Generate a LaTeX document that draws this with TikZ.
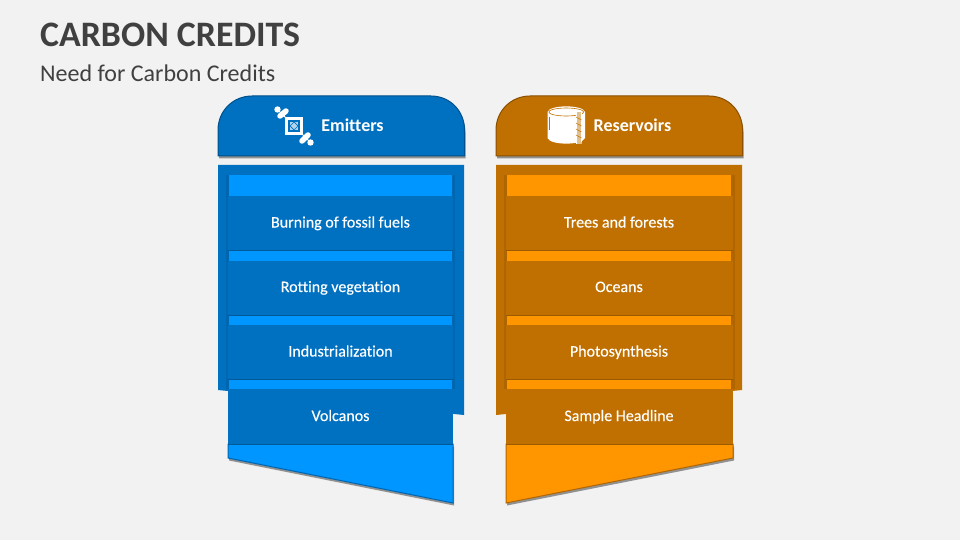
\documentclass[tikz,border=0pt]{standalone}
\usepackage{fontspec}
\setmainfont{Carlito}[Ligatures = NoCommon]
\newfontfamily\rowfont{Carlito}[Ligatures = NoCommon, FakeBold = .35]
\usetikzlibrary{shadows}
\definecolor{slidebg}{RGB}{242,242,242}
\definecolor{titlegray}{RGB}{64,64,64}
\definecolor{bluedark}{RGB}{0,112,192}
\definecolor{bluebright}{RGB}{0,150,255}
\definecolor{blueline}{RGB}{0,80,138}
\definecolor{blueedge}{RGB}{0,102,176}
\definecolor{orangedark}{RGB}{192,112,0}
\definecolor{orangebright}{RGB}{255,150,0}
\definecolor{orangeline}{RGB}{138,80,0}
\definecolor{orangeedge}{RGB}{176,102,0}
\tikzset{
  softshadow/.style = {drop shadow = {shadow xshift = 1pt, shadow yshift = -2.5pt, opacity = .4, fill = black}},
  rowlabel/.style = {text = white, text height = 10pt, text depth = 3pt, yshift = -1.5pt, font = \rowfont\fontsize{16}{18}\selectfont},
  headlabel/.style = {text = white, text height = 11.5pt, text depth = 3pt, yshift = -1.5pt, font = \fontsize{18}{20}\selectfont\bfseries}
}
\begin{document}
\begin{tikzpicture} [x = 1pt, y = -1pt]
          \useasboundingbox (0,0) rectangle (960,540);
          \fill[slidebg] (0,0) rectangle (960,540);
          \node[anchor = west, inner sep = 0, text = titlegray, font = \fontsize{35.8}{40}\selectfont\bfseries] (title) at (40,34.5) {CARBON CREDITS};
          \node[anchor = west, inner sep = 0, text = titlegray, font = \fontsize{24}{28}\selectfont] (subtitle) at (40,73) {Need for Carbon Credits};
          % emitters column
          \draw[draw = blueline, line width = 1pt, fill = bluedark, softshadow] (218,156) -- (218,130) .. controls (218,111) and (233,96) .. (252,96) -- (431,96) .. controls (450,96) and (464.5,111) .. (464.5,130) -- (464.5,156) -- cycle;
          \fill[bluedark] (218,165) -- (464,165) -- (464,415) -- (218,390) -- cycle;
          \fill[blueedge] (226,175) rectangle (455,389);
          \fill[bluebright] (229,175) rectangle (452,197);
          \fill[bluebright] (229,250) rectangle (452,262);
          \fill[bluebright] (229,314) rectangle (452,326);
          \fill[bluebright] (229,378) rectangle (452,390);
          \draw[draw = blueedge, line width = 1pt, fill = bluebright, softshadow] (228,444) -- (453,444) -- (453,503) -- (228,458) -- cycle;
          \fill[bluedark] (228,196) rectangle (453,250);
          \fill[bluedark] (228,261) rectangle (453,315);
          \fill[bluedark] (228,325) rectangle (453,379);
          \fill[bluedark] (227.5,389) rectangle (453,444);
          \draw[blueline!70!bluedark, line width = .8pt] (228,250) -- (453,250);
          \draw[blueline!70!bluedark, line width = .8pt] (228,315) -- (453,315);
          \draw[blueline!70!bluedark, line width = .8pt] (228,379) -- (453,379);
          \draw[blueline!70!bluedark, line width = .8pt] (228,444) -- (453,444);
          \node[headlabel] (emitters) at (352.5,126) {Emitters};
          \node[rowlabel] (burning) at (340.5,222.5) {Burning of fossil fuels};
          \node[rowlabel] (rotting) at (340.5,287) {Rotting vegetation};
          \node[rowlabel] (industry) at (340.5,351.5) {Industrialization};
          \node[rowlabel] (volcanos) at (340.5,416) {Volcanos};
          % emitters icon
          \fill[white] (285,117) rectangle (303,135);
          \fill[bluedark] (288,120) rectangle (300,132);
          \fill[white!70!bluedark] (290,122) rectangle (298,130);
          \draw[bluedark, line width = .7pt] (290,126) -- (294,122) -- (298,126) -- (294,130) -- cycle;
          \draw[white, line width = 1.2pt, dash pattern = on 2pt off 1pt] (285,117) -- (280,112);
          \draw[white, line width = 1.2pt, dash pattern = on 2pt off 1pt] (303,135) -- (308,140);
          \draw[white, line width = 5.5pt, line cap = round] (280,116) -- (286,111);
          \draw[white, line width = 5.5pt, line cap = round] (302,141) -- (308,135);
          \fill[white] (277.5,109.5) circle (3.2);
          \fill[white] (310.5,142.5) circle (3.2);
          % reservoirs column
          \draw[draw = orangeline, line width = 1pt, fill = orangedark, softshadow] (496,156) -- (496,130) .. controls (496,111) and (511,96) .. (530,96) -- (709,96) .. controls (728,96) and (742.5,111) .. (742.5,130) -- (742.5,156) -- cycle;
          \fill[orangedark] (496,165) -- (742,165) -- (742,390) -- (496,415) -- cycle;
          \fill[orangeedge] (504,175) rectangle (735,389);
          \fill[orangebright] (507,175) rectangle (731,197);
          \fill[orangebright] (507,250) rectangle (731,262);
          \fill[orangebright] (507,314) rectangle (731,326);
          \fill[orangebright] (507,378) rectangle (731,390);
          \draw[draw = orangeedge, line width = 1pt, fill = orangebright, softshadow] (506,444) -- (733,444) -- (733,458) -- (506,503) -- cycle;
          \fill[orangedark] (506,196) rectangle (733,250);
          \fill[orangedark] (506,261) rectangle (733,315);
          \fill[orangedark] (506,325) rectangle (733,379);
          \fill[orangedark] (505.5,389) rectangle (733,444);
          \draw[orangeline!70!orangedark, line width = .8pt] (506,250) -- (733,250);
          \draw[orangeline!70!orangedark, line width = .8pt] (506,315) -- (733,315);
          \draw[orangeline!70!orangedark, line width = .8pt] (506,379) -- (733,379);
          \draw[orangeline!70!orangedark, line width = .8pt] (506,444) -- (733,444);
          \node[headlabel] (reservoirs) at (632.5,126) {Reservoirs};
          \node[rowlabel] (trees) at (619,222.5) {Trees and forests};
          \node[rowlabel] (oceans) at (619,287) {Oceans};
          \node[rowlabel] (photo) at (619,351.5) {Photosynthesis};
          \node[rowlabel] (sample) at (619,416) {Sample Headline};
          % reservoirs icon
          \fill[white] (547.5,112) -- (547.5,138) .. controls (550,145.5) and (582.5,145.5) .. (585,138) -- (585,112) .. controls (583,104.5) and (549.5,104.5) .. (547.5,112) -- cycle;
          \draw[orangedark, line width = .6pt] (566.25,112) ellipse [x radius = 17.5, y radius = 4];
          \draw[orangedark, line width = .5pt] (549.5,117) -- (549.5,130);
          \fill[orangedark!45!white] (575.5,112) rectangle (582,144);
          \draw[white, line width = .7pt] (576,112) -- (576,144.5);
          \draw[white, line width = .7pt] (581.5,112) -- (581.5,142);
          \draw[orangedark, line width = .5pt] (576,117) -- (581.5,120);
          \draw[orangedark, line width = .5pt] (576,123) -- (581.5,126);
          \draw[orangedark, line width = .5pt] (576,129) -- (581.5,132);
          \draw[orangedark, line width = .5pt] (576,135) -- (581.5,138);
        \end{tikzpicture}
\end{document}
